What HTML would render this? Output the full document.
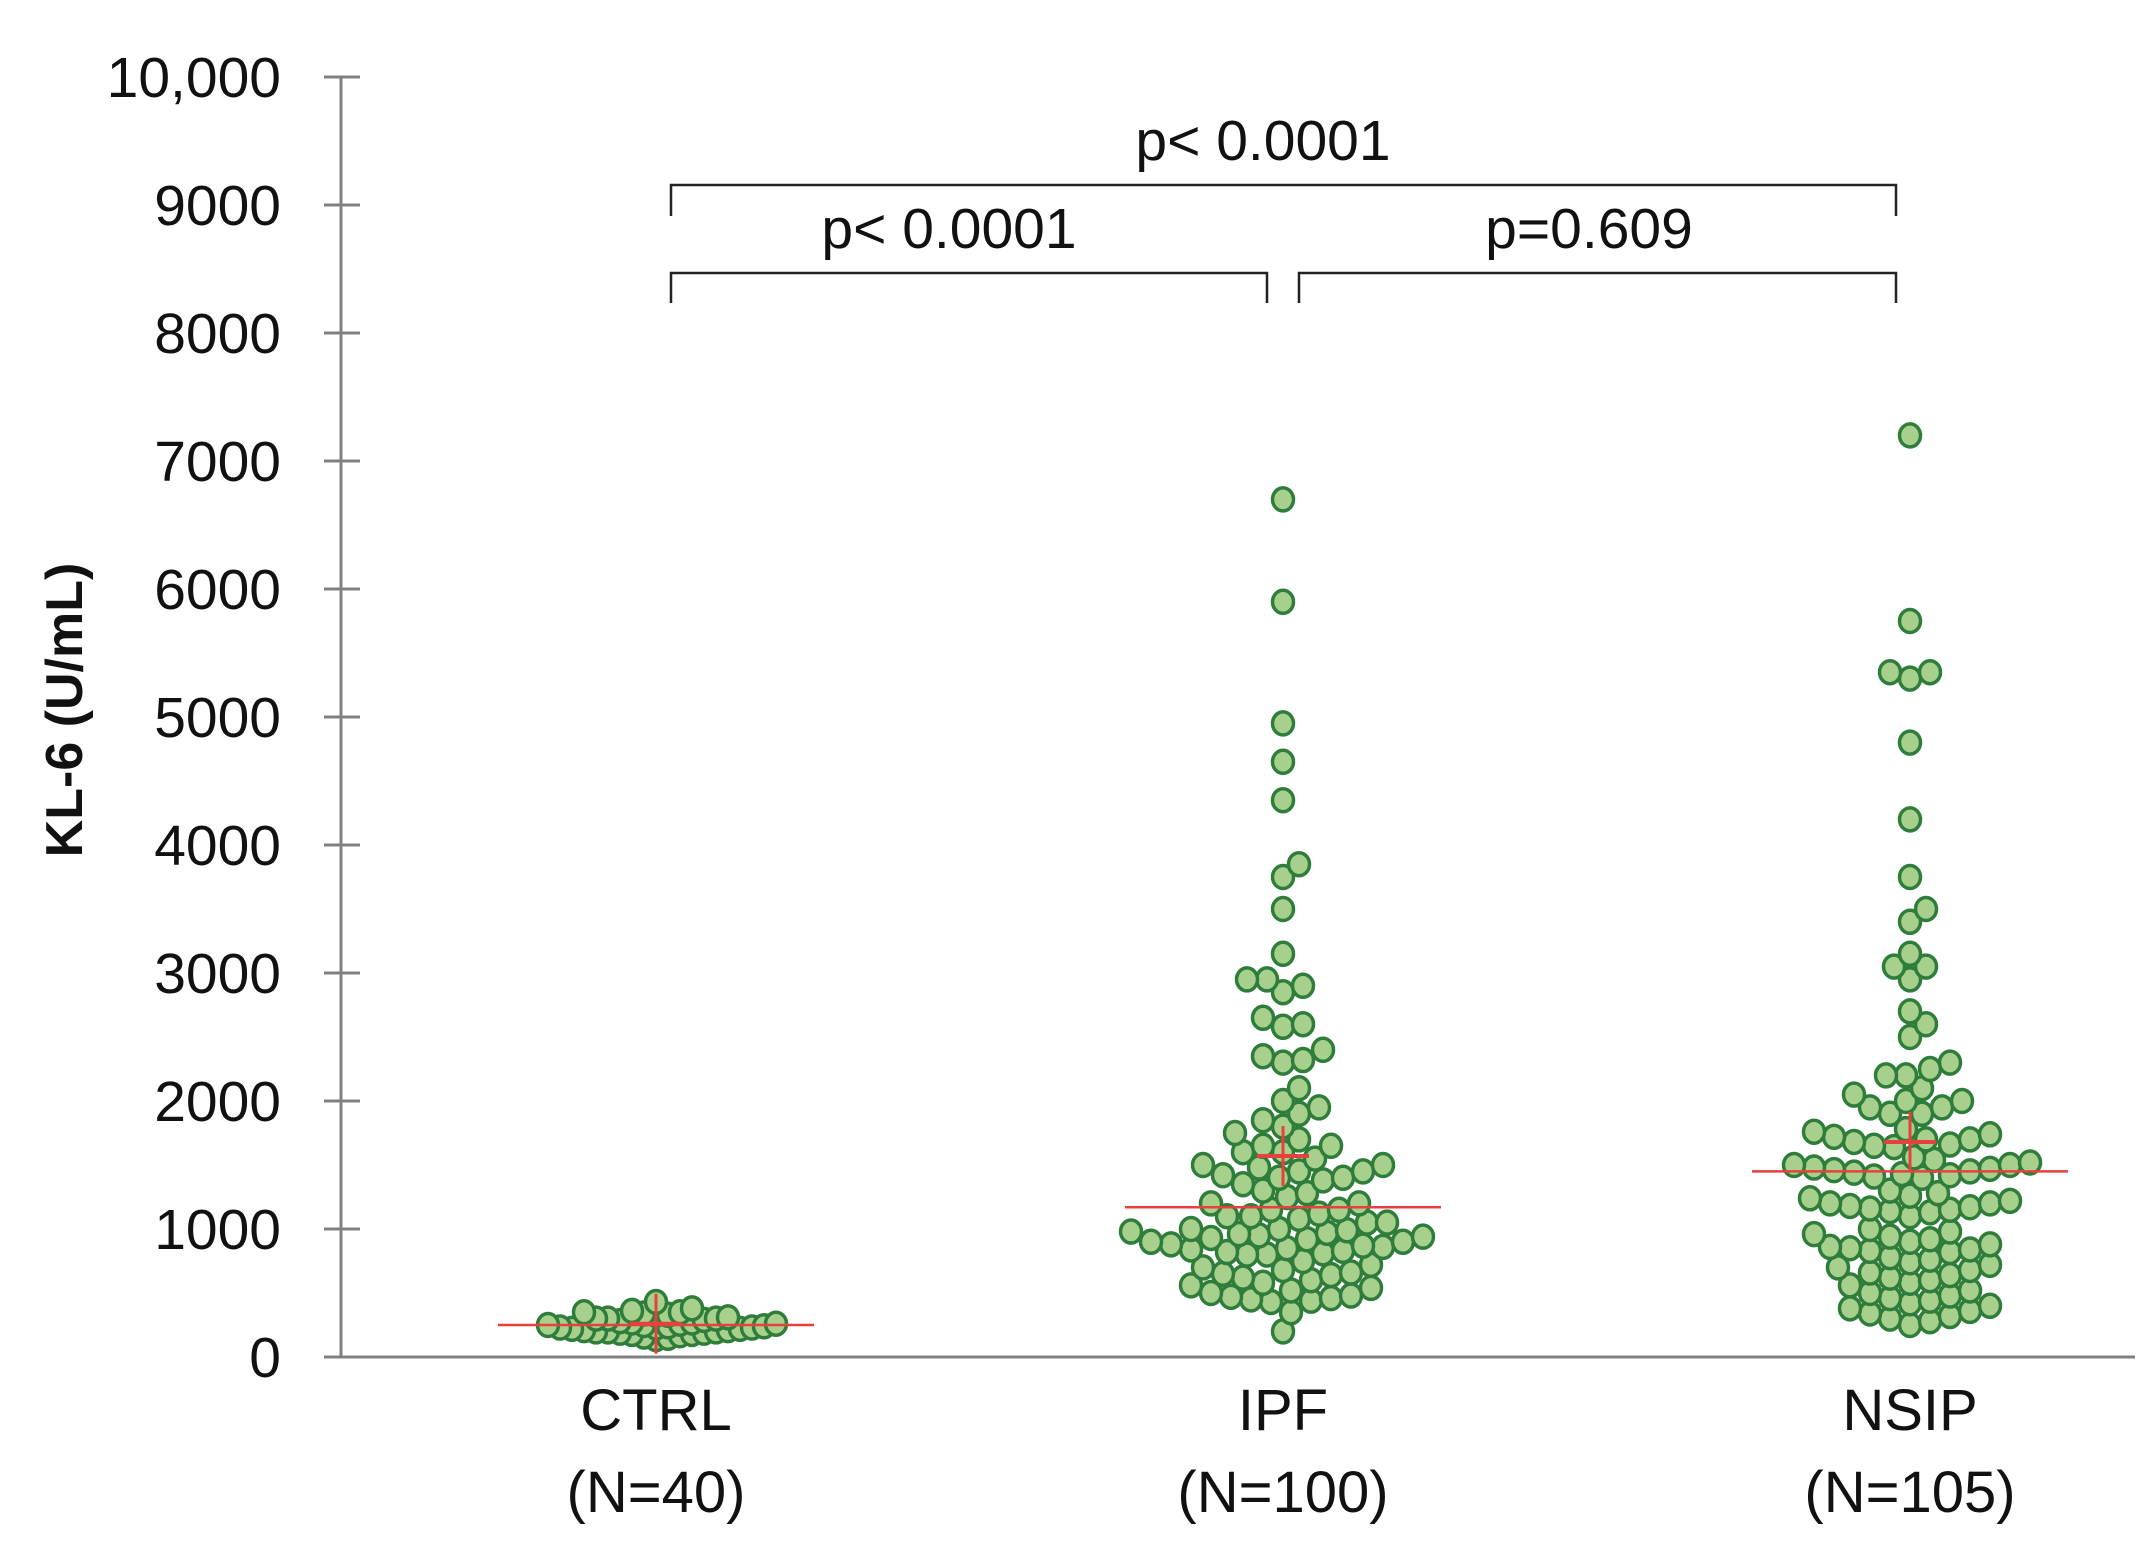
<!DOCTYPE html>
<html><head><meta charset="utf-8"><style>
html,body{margin:0;padding:0;background:#fff}
svg{display:block}
text{font-family:"Liberation Sans",sans-serif;fill:#111}
</style></head><body>
<svg id="chart" width="2142" height="1568" viewBox="0 0 2142 1568" xmlns="http://www.w3.org/2000/svg">
<g id="axes"></g>
<g id="marks"></g>
<g id="stats"></g>
<g id="brackets"></g>
</svg>
<script>
const categories = ["CTRL", "IPF", "NSIP"];
const groupNs = ["(N=40)", "(N=100)", "(N=105)"];
const yTicks = [0,1000,2000,3000,4000,5000,6000,7000,8000,9000,10000];
const yTickLabels = ["0","1000","2000","3000","4000","5000","6000","7000","8000","9000","10,000"];
const ctrlValues = [230,170,190,200,210,240,250,260,270,280,300,330,350,180,160,140,200,220,250,270,290,310,340,360,430,380,330,300,260,230,200,180,150,210,240,300,350,190,230,220];
const ipfValues = [6700,5900,4950,4650,4350,3850,3750,3500,3150,2950,2900,2850,2950,2650,2600,2580,2400,2350,2320,2300,2100,2000,1950,1900,1850,
1800,1750,1700,1650,1650,1600,1600,1550,
1500,1500,1480,1450,1450,1420,1400,1400,1380,1350,
1300,1280,1250,1200,1200,1150,1150,1120,1100,1100,1080,1050,1050,
1000,1000,990,980,970,960,950,940,930,920,900,900,880,870,860,850,840,830,820,810,800,800,
750,720,700,680,660,650,640,620,600,580,560,540,520,500,
480,470,460,450,440,430,350,200];
const nsipValues = [7200,5750,5350,5300,5350,4800,4200,3750,3500,3400,3150,3050,3050,2950,2700,2600,2500,
2300,2250,2200,2200,2100,2050,2000,2000,1950,1950,1900,1900,
1780,1760,1740,1720,1700,1700,1680,1660,1650,1640,
1560,1540,1520,1500,1500,1480,1470,1460,1450,1440,1430,1420,1410,1400,
1300,1280,1260,1240,1220,1200,1200,1180,1170,1160,1150,1140,1130,1100,
1000,980,960,940,920,900,880,860,850,840,830,820,
780,760,740,720,700,680,660,640,620,600,580,560,
520,500,480,460,440,420,400,380,360,340,320,300,280,250];
const medians = [250, 1170, 1450];
const means = [260, 1570, 1680];

const NS="http://www.w3.org/2000/svg";
const X0=341, X1=2135, Y0=1357, Ytop=77;
const catX=[656,1283,1910];
function yS(v){return Y0-(v/10000)*(Y0-Ytop);}
function mk(tag,attrs,parent){const e=document.createElementNS(NS,tag);for(const k in attrs)e.setAttribute(k,attrs[k]);parent.appendChild(e);return e;}
const axes=document.getElementById('axes'), marks=document.getElementById('marks'), stats=document.getElementById('stats'), br=document.getElementById('brackets');

let ax=mk('line',{x1:X0,y1:Ytop,x2:X0,y2:Y0,stroke:'#808080','stroke-width':3},axes);

let bx=mk('line',{x1:324,y1:Y0,x2:X1,y2:Y0,stroke:'#808080','stroke-width':3},axes);

yTicks.forEach((t,i)=>{
  const y=yS(t);
  const tk=mk('line',{x1:324,y1:y,x2:360,y2:y,stroke:'#808080','stroke-width':3},axes);
  
  const tx=mk('text',{x:281,y:y+20,'text-anchor':'end','font-size':57},axes);
  tx.textContent=yTickLabels[i];
  
});
const yt=mk('text',{x:0,y:0,'text-anchor':'middle','font-size':52,'font-weight':'bold',transform:'translate(82,710) rotate(-90)'},axes);
yt.textContent='KL-6 (U/mL)';

categories.forEach((c,i)=>{
  const t1=mk('text',{x:catX[i],y:1430,'text-anchor':'middle','font-size':58},axes);
  t1.textContent=c;
  
  const t2=mk('text',{x:catX[i],y:1512,'text-anchor':'middle','font-size':58},axes);
  t2.textContent=groupNs[i];
  
});

// beeswarm layout
const R=11.5;
function swarm(vals,cx,D){
  const sorted=vals.slice().sort((a,b)=>a-b);
  const placed=[];
  sorted.forEach(v=>{
    const y=yS(v);
    let best=null;
    for(let k=0;k<120;k++){
      const cands=k===0?[0]:[k*4,-k*4];
      for(const dx of cands){
        const ok=placed.every(p=>Math.hypot(p.x-dx,p.y-y)>=D);
        if(ok){best=dx;break;}
      }
      if(best!==null)break;
    }
    placed.push({x:best||0,y:y});
  });
  placed.forEach(p=>{
    const c=mk('ellipse',{cx:cx+p.x,cy:p.y,rx:R-1,ry:R,fill:'#a8d08d',stroke:'#2e7d3a','stroke-width':3.5},marks);
    
  });
}
swarm(ctrlValues,catX[0],11);
swarm(ipfValues,catX[1],20);
swarm(nsipValues,catX[2],20);

categories.forEach((c,i)=>{
  const my=yS(medians[i]);
  const m=mk('line',{x1:catX[i]-158,y1:my,x2:catX[i]+158,y2:my,stroke:'#e8403c','stroke-width':2.5},stats);
  
  const ey=yS(means[i]);
  const h=mk('line',{x1:catX[i]-26,y1:ey,x2:catX[i]+26,y2:ey,stroke:'#e8403c','stroke-width':4},stats);
  
  const v=mk('line',{x1:catX[i],y1:ey-30,x2:catX[i],y2:ey+30,stroke:'#e8403c','stroke-width':3},stats);
  
});

function bracket(x1,x2,y,drop,label,lx,ly,name){
  const p=mk('path',{d:`M${x1},${y+drop} V${y} H${x2} V${y+drop}`,fill:'none',stroke:'#222','stroke-width':2.5},br);
  
  const t=mk('text',{x:lx,y:ly,'text-anchor':'middle','font-size':57},br);
  t.textContent=label;
  
}
bracket(671,1896,185,31,'p< 0.0001',1263,160,'bracket-ctrl-nsip');
bracket(671,1267,273,30,'p< 0.0001',949,248,'bracket-ctrl-ipf');
bracket(1299,1896,273,30,'p=0.609',1589,248,'bracket-ipf-nsip');
</script>
</body></html>
